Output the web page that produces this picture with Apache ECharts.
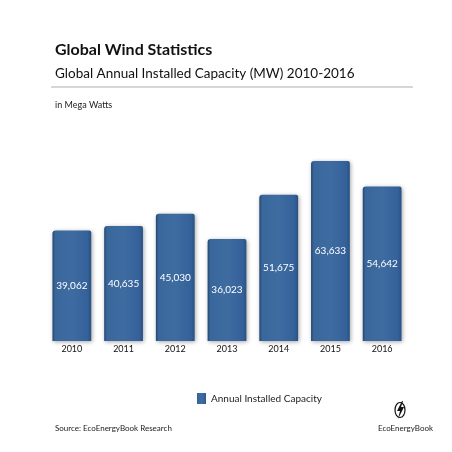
<!DOCTYPE html>
<html>
<head>
<meta charset="utf-8">
<script src="https://cdn.jsdelivr.net/npm/echarts@6/dist/echarts.min.js"></script>
<style>
  html, body { margin: 0; padding: 0; background: #fff; }
  #chart { width: 452px; height: 452px; }
</style>
</head>
<body>
<div id="chart"></div>
<script>
// data
var years = ['2010', '2011', '2012', '2013', '2014', '2015', '2016'];
var capacity = [39062, 40635, 45030, 36023, 51675, 63633, 54642];
var seriesName = 'Annual Installed Capacity';

var font = "Lato, sans-serif";

var myChart = echarts.init(document.getElementById('chart'), null, { renderer: 'canvas' });

// bar fill: dark left edge, lighter body, dark right side (fake 3d)
var barColor = new echarts.graphic.LinearGradient(0, 0, 1, 0, [
  { offset: 0, color: '#24476f' },
  { offset: 0.07, color: '#3a679b' },
  { offset: 0.5, color: '#3e6ca1' },
  { offset: 0.9, color: '#35619a' },
  { offset: 1, color: '#2a5283' }
]);

var option = {
  backgroundColor: '#fff',
  animation: false,
  title: [
    {
      text: 'Global Wind Statistics',
      left: 50, top: 37,
      textStyle: { fontFamily: font, fontWeight: 'bold', fontSize: 16, color: '#111' }
    },
    {
      text: 'Global Annual Installed Capacity (MW) 2010-2016',
      left: 50, top: 62,
      textStyle: { fontFamily: font, fontWeight: 'normal', fontSize: 13.5, color: '#111' }
    },
    {
      text: 'in Mega Watts',
      left: 50, top: 96,
      textStyle: { fontFamily: font, fontWeight: 'normal', fontSize: 9, color: '#222' }
    },
    {
      text: 'Source: EcoEnergyBook Research',
      left: 50, top: 419,
      textStyle: { fontFamily: font, fontWeight: 'normal', fontSize: 8, color: '#222' }
    },
    {
      text: 'EcoEnergyBook',
      left: 373, top: 419,
      textStyle: { fontFamily: font, fontWeight: 'normal', fontSize: 8, color: '#222' }
    }
  ],
  legend: {
    data: [seriesName],
    left: 192, top: 388,
    itemWidth: 9, itemHeight: 11, itemGap: 6,
    icon: 'rect',
    textStyle: { fontFamily: font, fontSize: 10, color: '#222' }
  },
  grid: { left: 46, right: 44, top: 143, bottom: 111 },
  xAxis: {
    type: 'category',
    data: years,
    axisLine: { show: false },
    axisTick: { show: false },
    axisLabel: { fontFamily: font, fontSize: 9, color: '#111', margin: 4 }
  },
  yAxis: {
    type: 'value',
    min: 0, max: 70000,
    show: false,
    splitLine: { show: false }
  },
  graphic: [
    // rule under the subtitle
    { type: 'rect', shape: { x: 51, y: 86, width: 362, height: 2 }, style: { fill: '#d6d6d6' } },
    // logo
    { type: 'ellipse', shape: { cx: 400, cy: 410, rx: 5, ry: 7.5 }, style: { fill: 'none', stroke: '#111', lineWidth: 1.2 } },
    { type: 'polygon', shape: { points: [[402, 401], [397, 411], [400, 411], [398, 419], [404, 407], [401, 407], [403, 401]] }, style: { fill: '#111' } }
  ],
  series: [
    {
      name: seriesName,
      type: 'bar',
      data: capacity,
      barCategoryGap: '25%',
      itemStyle: {
        color: barColor,
        borderRadius: [3, 2, 0, 0],
        shadowColor: 'rgba(0,0,0,0.35)',
        shadowBlur: 4,
        shadowOffsetX: 1,
        shadowOffsetY: 1
      },
      label: {
        show: true,
        position: 'inside',
        fontFamily: font,
        fontSize: 10,
        color: '#fff',
        formatter: function (p) { return p.value.toLocaleString('en-US'); }
      }
    }
  ]
};

myChart.setOption(option);
</script>
</body>
</html>
